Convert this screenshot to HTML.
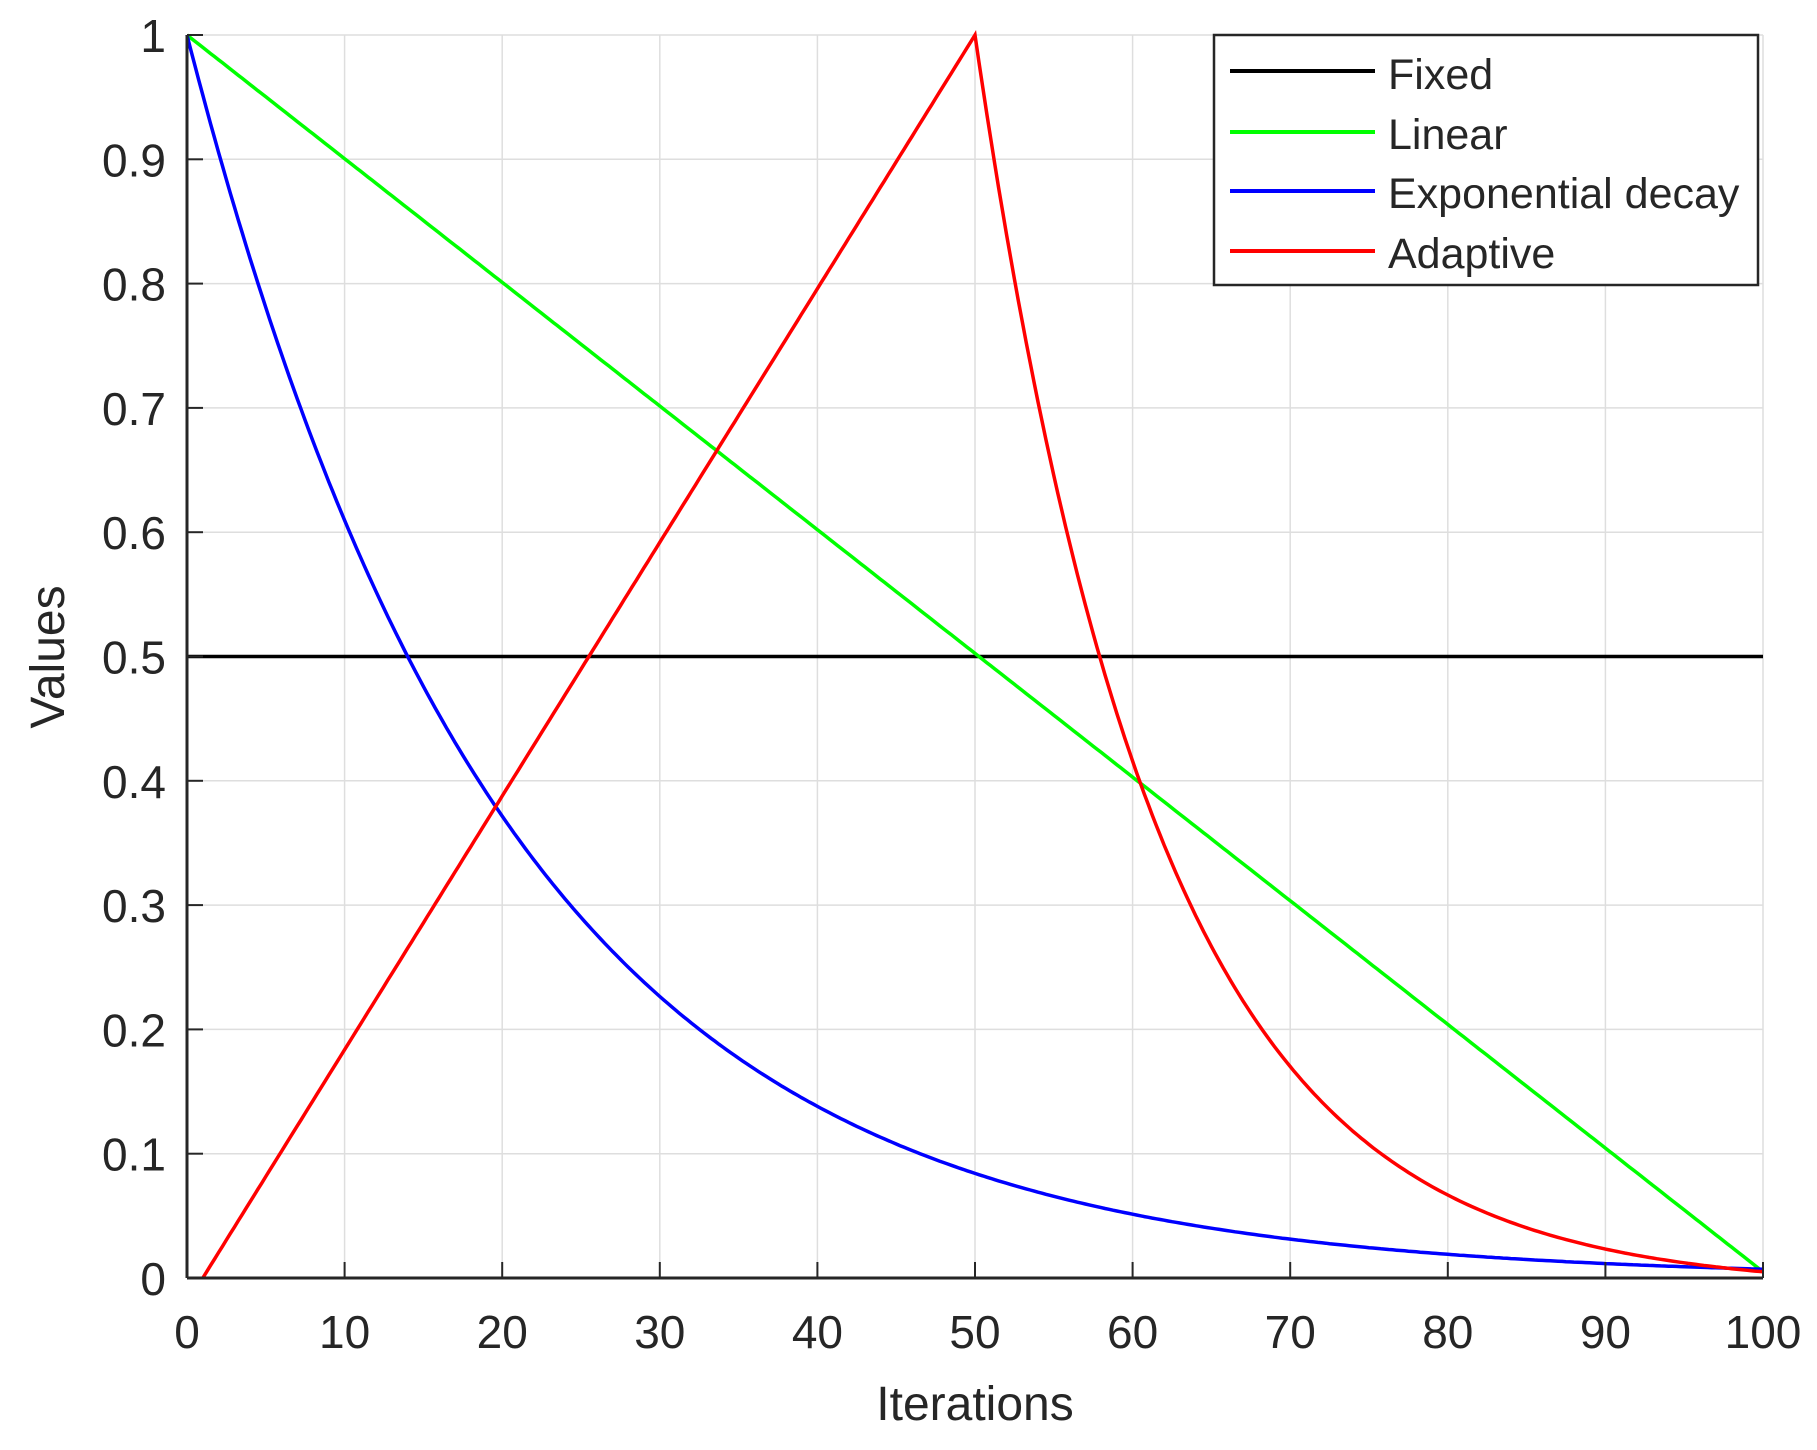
<!DOCTYPE html>
<html><head><meta charset="utf-8"><style>html,body{margin:0;padding:0;background:#fff}svg{display:block}text{font-family:"Liberation Sans",Arial,sans-serif;fill:#262626}</style></head>
<body>
<svg id="s" width="1817" height="1450" viewBox="0 0 1817 1450" xmlns="http://www.w3.org/2000/svg">
<g id="grid" stroke="#dedede" stroke-width="1.5"></g>
<g id="curves" fill="none" stroke-width="3.5"></g>
<line x1="187" y1="35" x2="187" y2="1278" stroke="#262626" stroke-width="3"/>
<line x1="187" y1="1278" x2="1763" y2="1278" stroke="#262626" stroke-width="3"/>
<g id="ticks" stroke="#262626" stroke-width="2"></g>
<g id="labels" font-size="46" ></g>
<text x="975" y="1420" font-size="48" text-anchor="middle">Iterations</text>
<text transform="translate(64,657) rotate(-90)" font-size="48" text-anchor="middle">Values</text>
<rect x="1214" y="35" width="544" height="250" fill="#fff" stroke="#262626" stroke-width="2.5"/>
<g stroke-width="4">
<line x1="1230" y1="71" x2="1375" y2="71" stroke="#000"/>
<line x1="1230" y1="132" x2="1375" y2="132" stroke="#00ff00"/>
<line x1="1230" y1="191" x2="1375" y2="191" stroke="#0000ff"/>
<line x1="1230" y1="251" x2="1375" y2="251" stroke="#ff0000"/>
</g>
<g font-size="43">
<text x="1388" y="89">Fixed</text>
<text x="1388" y="149">Linear</text>
<text x="1388" y="208">Exponential decay</text>
<text x="1388" y="268">Adaptive</text>
</g>
</svg>
<script>
var X=function(v){return 187+v*15.76},Y=function(v){return 1278-v*1243};
var ns="http://www.w3.org/2000/svg";
function el(p,t,a,txt){var e=document.createElementNS(ns,t);for(var k in a)e.setAttribute(k,a[k]);if(txt!==undefined)e.textContent=txt;document.getElementById(p).appendChild(e);}
for(var i=1;i<=10;i++){el("grid","line",{x1:X(i*10),y1:35,x2:X(i*10),y2:1278});el("grid","line",{x1:187,y1:Y(i/10),x2:1763,y2:Y(i/10)});}
for(var i=0;i<=10;i++){
 el("ticks","line",{x1:X(i*10),y1:1278,x2:X(i*10),y2:1262});
 el("ticks","line",{x1:187,y1:Y(i/10),x2:203,y2:Y(i/10)});
 el("labels","text",{x:X(i*10),y:1348,"text-anchor":"middle"},String(i*10));
 el("labels","text",{x:166,y:Y(i/10)+17,"text-anchor":"end"},i==0?"0":i==10?"1":"0."+i);
}
function path(f,a,b,c){var d="";for(var x=a;x<=b+1e-9;x+=0.25){d+=(d?"L":"M")+X(x).toFixed(1)+","+Y(f(x)).toFixed(1);}el("curves","path",{d:d,stroke:c});}
path(function(x){return 0.5},0,100,"#000");
path(function(x){return 1-x/100*0.995},0,100,"#00ff00");
path(function(x){return Math.exp(-0.0495*x)},0,100,"#0000ff");
var k=0.0866,e=Math.exp(-50*k);
path(function(x){return x<=50?(x-1)/49:(Math.exp(-k*(x-50))-e)/(1-e)*0.995+0.005},1,100,"#ff0000");
</script>
</body></html>
